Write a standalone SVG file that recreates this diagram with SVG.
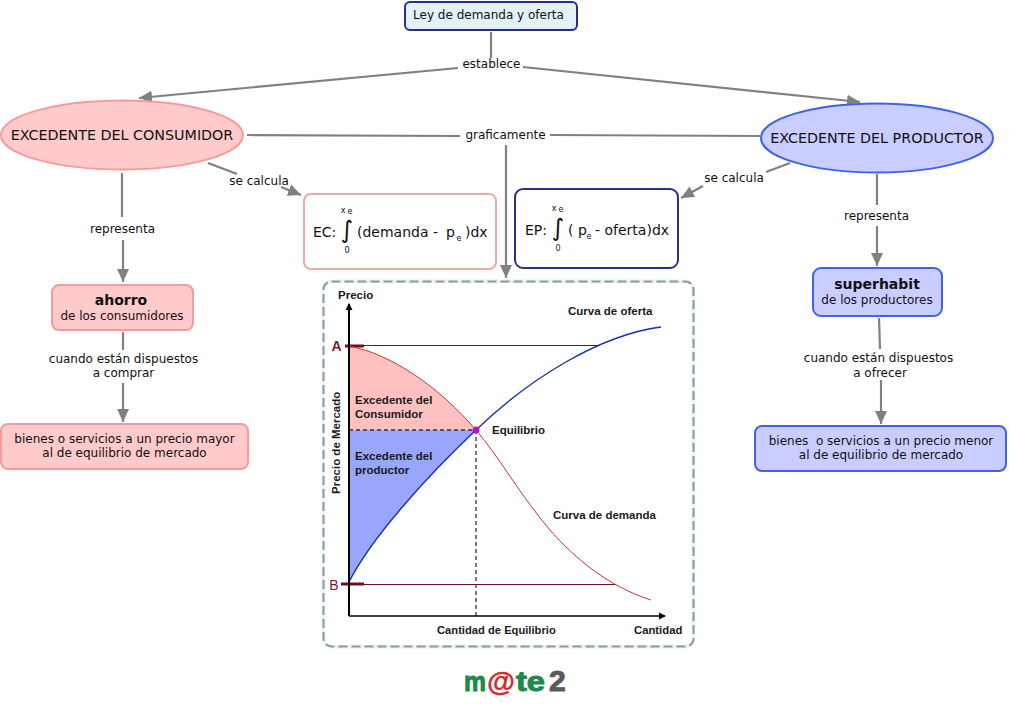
<svg xmlns="http://www.w3.org/2000/svg" width="1009" height="709" viewBox="0 0 1009 709">
<style>
text{font-family:"DejaVu Sans",Verdana,sans-serif;font-size:12px;fill:#111;text-anchor:middle;white-space:pre}
.big{font-size:14.300px}
.b{font-weight:bold;font-size:14px}
.f{font-size:14px;text-anchor:start}
.s{font-size:8px}
.i{font-size:24px}
.g{font-family:"Liberation Sans",Arial,sans-serif;font-weight:bold;font-size:11.500px;fill:#1a1a1a;text-anchor:start}
.lg{font-family:"Liberation Sans",sans-serif;font-weight:bold;text-anchor:start;font-size:28px;fill:#1d8a4a;stroke:#1d8a4a;stroke-width:1}
.c{fill:none;stroke:#808080;stroke-width:2.200}
.r{fill:#ffcaca;stroke:#f79a9a;stroke-width:2}
.u{fill:#cacdff;stroke:#3f63e6;stroke-width:2}
</style>
<defs>
<marker id="ah" markerUnits="userSpaceOnUse" markerWidth="14" markerHeight="14" refX="13" refY="7" orient="auto"><path d="M0 1 L13 7 L0 13Z" fill="#808080"/></marker>
<marker id="k" markerUnits="userSpaceOnUse" markerWidth="8" markerHeight="8" refX="6" refY="4" orient="auto"><path d="M0 0.500L7 4L0 7.500Z" fill="#000"/></marker>
</defs>
<rect width="1009" height="709" fill="#fff"/>
<g id="connectors">
<path class="c" d="M491 32V58"/>
<path class="c" d="M458 68L139 98" marker-end="url(#ah)"/>
<path class="c" d="M523 67L860 102" marker-end="url(#ah)"/>
<path class="c" d="M247 135L460 136"/>
<path class="c" d="M550 135L760 136"/>
<path class="c" d="M506 145V278" marker-end="url(#ah)"/>
<path class="c" d="M208 163L237 174"/>
<path class="c" d="M281 187L301 195" marker-end="url(#ah)"/>
<path class="c" d="M790 163L766 172"/>
<path class="c" d="M703 186L681 198" marker-end="url(#ah)"/>
<path class="c" d="M122 173V217"/>
<path class="c" d="M123 240V282" marker-end="url(#ah)"/>
<path class="c" d="M877 174V205"/>
<path class="c" d="M877 226V266" marker-end="url(#ah)"/>
<path class="c" d="M123 332V350"/>
<path class="c" d="M123 383V422" marker-end="url(#ah)"/>
<path class="c" d="M879 318L880 349"/>
<path class="c" d="M881 380V424" marker-end="url(#ah)"/>
</g>
<g id="n-ley"><rect x="405" y="2" width="172" height="28" rx="5" fill="#e4f1f7" stroke="#2b2f86" stroke-width="2"/><text x="488.500" y="19">Ley de demanda y oferta</text></g>
<g id="l-establece"><text x="491.500" y="68">establece</text></g>
<g id="n-consumidor"><ellipse cx="122" cy="135" rx="121" ry="34.500" class="r"/><text class="big" x="122" y="140">EXCEDENTE DEL CONSUMIDOR</text></g>
<g id="n-productor"><ellipse cx="877" cy="138" rx="116" ry="34.500" class="u"/><text class="big" x="877" y="143">EXCEDENTE DEL PRODUCTOR</text></g>
<g id="l-graf"><text x="505.500" y="139">graficamente</text></g>
<g id="l-calc1"><text x="259" y="185">se calcula</text></g>
<g id="l-calc2"><text x="734" y="182">se calcula</text></g>
<g id="l-rep1"><text x="122.500" y="233">representa</text></g>
<g id="l-rep2"><text x="876.500" y="220">representa</text></g>
<g id="n-ec"><rect x="304" y="194" width="192" height="75" rx="7" fill="#fff" stroke="#f4a6a6" stroke-width="2"/>
<text class="f" x="313" y="237">EC:</text>
<text class="i" x="347" y="238">∫</text>
<text class="s" x="343" y="213">x</text><text class="s" x="350" y="214">e</text><text class="s" x="347" y="253">0</text>
<text class="f" x="357" y="237">(demanda -</text>
<text class="f" x="446" y="237">p</text><text class="s" x="459" y="241">e</text>
<text class="f" x="465" y="237">)dx</text></g>
<g id="n-ep"><rect x="515" y="189" width="163" height="79" rx="8" fill="#fff" stroke="#2b2f86" stroke-width="2"/>
<text class="f" x="525" y="235">EP:</text>
<text class="i" x="558" y="236">∫</text>
<text class="s" x="554" y="211">x</text><text class="s" x="561" y="212">e</text><text class="s" x="558" y="251">0</text>
<text class="f" x="568" y="235">( p</text><text class="s" x="589" y="239">e</text>
<text class="f" x="595" y="235">- oferta)dx</text></g>
<g id="n-ahorro"><rect x="52" y="285" width="141" height="45" rx="7" class="r"/><text class="b" x="121" y="305">ahorro</text><text x="122" y="320">de los consumidores</text></g>
<g id="n-superhabit"><rect x="813" y="268" width="129" height="48" rx="8" class="u"/><text class="b" x="877" y="289">superhabit</text><text x="877" y="304">de los productores</text></g>
<g id="l-cuando1"><text x="123.500" y="363">cuando están dispuestos</text><text x="123.500" y="377">a comprar</text></g>
<g id="l-cuando2"><text x="878.500" y="362">cuando están dispuestos</text><text x="880" y="377">a ofrecer</text></g>
<g id="n-bienes1"><rect x="1" y="424" width="247" height="45" rx="7" class="r"/><text x="124.500" y="443">bienes o servicios a un precio mayor</text><text x="124.500" y="457">al de equilibrio de mercado</text></g>
<g id="n-bienes2"><rect x="755" y="426" width="251" height="45" rx="7" class="u"/><text x="881" y="445">bienes  o servicios a un precio menor</text><text x="881" y="459">al de equilibrio de mercado</text></g>
<g id="n-grafico">
<rect x="323.500" y="281.500" width="370" height="365" rx="8" fill="#fff" stroke="#edf3f3" stroke-width="4"/>
<rect x="323.500" y="281.500" width="370" height="365" rx="8" fill="none" stroke="#8a9a9a" stroke-width="2" stroke-dasharray="9 4"/>
<path d="M349 346C392 354 440 388 476 430H349Z" fill="#ffc0c0"/>
<path d="M349 430H476C425 478 370 540 349 582Z" fill="#98a6fb"/>
<path d="M349 345.500H600M349 584.500H615" stroke="#6d1025" stroke-width="1" fill="none"/>
<path d="M345 346H364M341 584H364" stroke="#6d1025" stroke-width="3" fill="none"/>
<path d="M349 346C392 354 440 388 476 430C500 458 520 495 550 530C585 570 620 590 651 600" fill="none" stroke="#c8372f" stroke-width="1"/>
<path d="M349 582C370 540 425 478 476 430C530 378 600 335 661 327" fill="none" stroke="#1a2fa8" stroke-width="1.400"/>
<path d="M349 430H476M476 430V616" fill="none" stroke="#333" stroke-width="1.300" stroke-dasharray="4 3"/>
<path d="M349 616V304" fill="none" stroke="#000" stroke-width="2" marker-end="url(#k)"/>
<path d="M349 616H665" fill="none" stroke="#000" stroke-width="1.500" marker-end="url(#k)"/>
<circle cx="476" cy="430" r="3.500" fill="#c010c8"/>
<text class="g" x="338" y="299">Precio</text>
<text class="g" x="568" y="315">Curva de oferta</text>
<text class="g" x="355" y="404">Excedente del</text><text class="g" x="355" y="418">Consumidor</text>
<text class="g" x="355" y="460">Excedente del</text><text class="g" x="355" y="474">productor</text>
<text class="g" x="492" y="434">Equilibrio</text>
<text class="g" x="553" y="519">Curva de demanda</text>
<text class="g" x="437" y="634" style="font-size:11.200px">Cantidad de Equilibrio</text>
<text class="g" x="634" y="634" style="font-size:11.300px">Cantidad</text>
<text class="g" transform="translate(340 494) rotate(-90)">Precio de Mercado</text>
<text x="336.500" y="351" style="font-family:'Liberation Sans',sans-serif;font-size:14px;font-weight:bold;fill:#7a1a33">A</text>
<text x="334" y="590" style="font-family:'Liberation Sans',sans-serif;font-size:14px;fill:#7a1a33">B</text>
</g>
<g id="logo">
<text class="lg" x="464" y="691" textLength="22" lengthAdjust="spacingAndGlyphs">m</text>
<text class="lg" x="487" y="691" textLength="28" lengthAdjust="spacingAndGlyphs" style="fill:#d8262c;stroke:#d8262c;stroke-width:.3">@</text>
<text class="lg" x="516" y="691" textLength="29" lengthAdjust="spacingAndGlyphs">te</text>
<text class="lg" x="549" y="691" style="font-size:30px;fill:#5a5a5a;stroke:#5a5a5a">2</text>
</g>
</svg>
